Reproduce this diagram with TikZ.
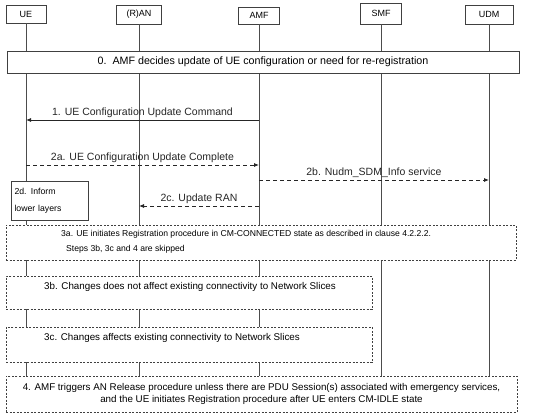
\documentclass[tikz,border=0pt]{standalone}
\usepackage{fontspec}
\setmainfont{Liberation Sans}
\usetikzlibrary{arrows.meta,positioning,calc}

\begin{document}
\begin{tikzpicture}[
  x=1pt, y=-1pt,
  >={Latex[length=5pt,width=4pt]},
  font=\fontsize{9}{11}\selectfont,
  actor/.style={draw=black!75, fill=white, inner sep=1pt},
  life/.style={draw=black!70, line width=0.6pt},
  sbox/.style={draw=black!75, fill=white, inner sep=0pt},
  dbox/.style={draw=black!75, fill=white, inner sep=0pt, dash pattern=on 2pt off 1.5pt},
  msg/.style={->, black!85, line width=0.8pt},
  dmsg/.style={msg, dash pattern=on 4pt off 3pt},
  mlabel/.style={above, font=\fontsize{10.5}{12}\selectfont, inner sep=2pt}
]
\useasboundingbox (0,0) rectangle (554,417);

% participants
\node[actor, minimum width=40, minimum height=18] (ue) at (26,14) {UE};
\node[actor, minimum width=45, minimum height=19] (ran) at (139,14.5) {(R)AN};
\node[actor, minimum width=41, minimum height=17] (amf) at (259,15.5) {AMF};
\node[actor, minimum width=41, minimum height=21] (smf) at (381,13.5) {SMF};
\node[actor, minimum width=48, minimum height=19] (udm) at (489,14.5) {UDM};

% lifelines
\coordinate (bot) at (0,377);
\foreach \p in {ue,ran,amf,smf,udm}
  \draw[life] (\p) -- (\p |- bot);

% step 0
\node[sbox, minimum width=512, minimum height=22, font=\fontsize{10.7}{12}\selectfont] (s0) at (263,62)
  {0.\ \ AMF decides update of UE configuration or need for re-registration};

% messages
\coordinate (m1) at (0,120);
\coordinate (m2a) at (0,165);
\coordinate (m2b) at (0,180);
\coordinate (m2c) at (0,206);
\draw[msg] (amf |- m1) -- node[mlabel] {1. UE Configuration Update Command} (ue |- m1);
\draw[dmsg] (ue |- m2a) -- node[mlabel] {2a. UE Configuration Update Complete} (amf |- m2a);
\draw[dmsg] (amf |- m2b) -- node[mlabel] {2b. Nudm\_SDM\_Info service} (udm |- m2b);
\draw[dmsg] (amf |- m2c) -- node[mlabel] {2c. Update RAN} (ran |- m2c);

\node[sbox, minimum width=77, minimum height=39, text width=70, align=left,
  font=\fontsize{8.7}{17}\selectfont] (s2d) at (49.5,200.5) {2d. Inform\\lower layers};

% step 3a
\node[dbox, minimum width=510, minimum height=35] (s3a) at (261,242.5) {};
\node[anchor=north west, align=left, inner sep=0pt, font=\fontsize{8.6}{15}\selectfont] (t3a) at (61,230)
  {3a. UE initiates Registration procedure in CM-CONNECTED state as described in clause 4.2.2.2.\\
   \hspace*{5pt}Steps 3b, 3c and 4 are skipped};

% step 3b
\node[dbox, minimum width=366, minimum height=33] (s3b) at (189,292.5) {};
\node[anchor=west, inner sep=0pt, font=\fontsize{9.8}{11}\selectfont] (t3b) at (44,287)
  {3b. Changes does not affect existing connectivity to Network Slices};

% step 3c
\node[dbox, minimum width=366, minimum height=35] (s3c) at (189,344.5) {};
\node[anchor=west, inner sep=0pt, font=\fontsize{9.8}{11}\selectfont] (t3c) at (44,338)
  {3c. Changes affects existing connectivity to Network Slices};

% step 4
\node[dbox, minimum width=511, minimum height=36, align=center,
  font=\fontsize{9.8}{12}\selectfont] (s4) at (261.5,394)
  {4. AMF triggers AN Release procedure unless there are PDU Session(s) associated with emergency services,\\
   and the UE initiates Registration procedure after UE enters CM-IDLE state};
\end{tikzpicture}
\end{document}
